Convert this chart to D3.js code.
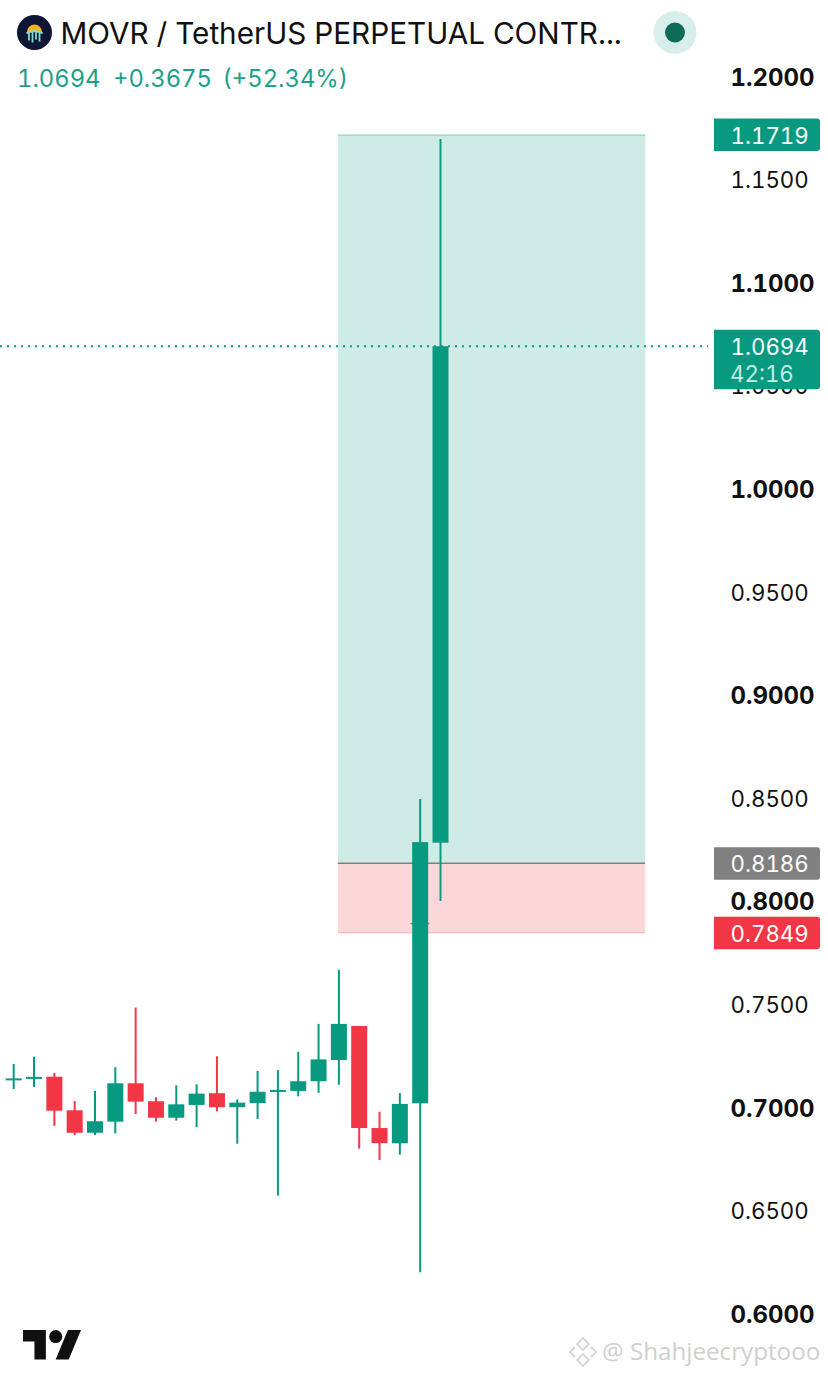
<!DOCTYPE html>
<html>
<head>
<meta charset="utf-8">
<title>MOVR / TetherUS</title>
<script src="https://cdn.jsdelivr.net/npm/d3@7"></script>
<style>
	html, body { margin: 0; padding: 0; background: #fff; }
	svg { display: block; }
	text { font-family: Inter, "Noto Sans", sans-serif; font-variant-numeric: tabular-nums; font-feature-settings: "tnum"; }
</style>
</head>
<body>
<div id="chart"></div>
<script>
// candles
var opens  = [0.7138, 0.7146, 0.7151, 0.6988, 0.6879, 0.6933, 0.7119, 0.7032, 0.6952, 0.7014, 0.7071, 0.7003, 0.7023, 0.7082, 0.7082, 0.7129, 0.7232, 0.7397, 0.6902, 0.6828, 0.7022, 0.8286];
var highs  = [0.7213, 0.7248, 0.7169, 0.7033, 0.7082, 0.7197, 0.7486, 0.7051, 0.7109, 0.7114, 0.7250, 0.7041, 0.7179, 0.7183, 0.7272, 0.7407, 0.7670, 0.7397, 0.6981, 0.7072, 0.8498, 1.1699];
var lows   = [0.7091, 0.7101, 0.6913, 0.6868, 0.6868, 0.6876, 0.6970, 0.6933, 0.6938, 0.6906, 0.6983, 0.6826, 0.6946, 0.6574, 0.7056, 0.7073, 0.7112, 0.6802, 0.6747, 0.6773, 0.6202, 0.8003];
var closes = [0.7138, 0.7150, 0.6986, 0.6879, 0.6935, 0.7119, 0.7030, 0.6952, 0.7017, 0.7069, 0.7003, 0.7025, 0.7078, 0.7082, 0.7129, 0.7235, 0.7407, 0.6902, 0.6829, 0.7019, 0.8289, 1.0694];

var priceTicks = [1.2, 1.15, 1.1, 1.05, 1.0, 0.95, 0.9, 0.85, 0.8, 0.75, 0.7, 0.65, 0.6];
var boldTicks = [1.2, 1.1, 1.0, 0.9, 0.8, 0.7, 0.6];

var targetPrice = 1.1719;
var entryPrice = 0.8186;
var stopPrice = 0.7849;
var lastPrice = 1.0694;
var countdown = '42:16';

var GREEN = '#089981';
var RED = '#F23645';
var GRAY = '#808080';

var width = 828;
var height = 1376;

var svg = d3.select('#chart').append('svg')
	.attr('width', width)
	.attr('height', height);

var x = d3.scaleLinear().domain([0, 21]).range([13.7, 440.5]);
var y = d3.scaleLinear().domain([0.6, 1.2]).range([1314, 77]);
var bodyWidth = 16;

var candles = opens.map(function(o, i) {
	return { i: i, o: o, h: highs[i], l: lows[i], c: closes[i] };
});
function candleColor(d) {
	return d.c >= d.o ? GREEN : RED;
}

// price axis goes first, the tags sit on top of it
var axis = svg.append('g')
	.attr('class', 'axis')
	.attr('transform', 'translate(730.5,0.5)')
	.call(d3.axisRight(y)
		.tickValues(priceTicks)
		.tickFormat(d3.format('.4f'))
		.tickSize(0)
		.tickPadding(0));
axis.select('.domain').remove();
axis.selectAll('text')
	.style('font-family', 'Inter, sans-serif')
	.attr('fill', '#101010')
	.attr('font-size', function(d) {
		return boldTicks.indexOf(d) >= 0 ? 24 : 22.3;
	})
	.attr('font-weight', function(d) {
		return boldTicks.indexOf(d) >= 0 ? 700 : 400;
	});

// long position zones
var zoneLeft = x(15.95);
var zoneRight = x(31.07);

svg.append('rect')
	.attr('x', zoneLeft).attr('width', zoneRight - zoneLeft)
	.attr('y', y(targetPrice)).attr('height', y(entryPrice) - y(targetPrice))
	.attr('fill', GREEN).attr('fill-opacity', 0.2);
svg.append('rect')
	.attr('x', zoneLeft).attr('width', zoneRight - zoneLeft)
	.attr('y', y(entryPrice)).attr('height', y(stopPrice) - y(entryPrice))
	.attr('fill', RED).attr('fill-opacity', 0.2);

function zoneLine(price, color, opacity) {
	svg.append('line')
		.attr('x1', zoneLeft).attr('x2', zoneRight)
		.attr('y1', y(price)).attr('y2', y(price))
		.attr('stroke', color)
		.attr('stroke-opacity', opacity)
		.attr('stroke-width', 1.5);
}
zoneLine(targetPrice, GREEN, 0.3);
zoneLine(stopPrice, RED, 0.22);
zoneLine(entryPrice, GRAY, 1);

// small arrow head of the position tool, mostly behind the big candle
svg.append('path')
	.attr('d', 'M410 923H430L420 931Z')
	.attr('fill', GRAY);

// candles
var candleG = svg.append('g').attr('class', 'candles');
candleG.selectAll('line')
	.data(candles)
	.enter().append('line')
	.attr('x1', function(d) { return x(d.i); })
	.attr('x2', function(d) { return x(d.i); })
	.attr('y1', function(d) { return y(d.h); })
	.attr('y2', function(d) { return y(d.l); })
	.attr('stroke', candleColor)
	.attr('stroke-width', 2);
candleG.selectAll('rect')
	.data(candles)
	.enter().append('rect')
	.attr('x', function(d) { return x(d.i) - bodyWidth / 2; })
	.attr('width', bodyWidth)
	.attr('y', function(d) { return y(Math.max(d.o, d.c)) - (d.o === d.c ? 1 : 0); })
	.attr('height', function(d) { return Math.max(2, Math.abs(y(d.o) - y(d.c))); })
	.attr('fill', candleColor);

// last price line
svg.append('line')
	.attr('x1', 0).attr('x2', 708)
	.attr('y1', y(lastPrice)).attr('y2', y(lastPrice))
	.attr('stroke', GREEN)
	.attr('stroke-width', 2)
	.attr('stroke-dasharray', '2 5');

// price tags
function priceTag(price, color, topOffset, tagHeight) {
	var top = y(price) - topOffset;
	svg.append('path')
		.attr('d', 'M714 ' + top + 'H817q3 0 3 3V' + (top + tagHeight - 3) + 'q0 3 -3 3H714Z')
		.attr('fill', color);
	svg.append('text')
		.attr('x', 730.5)
		.attr('y', y(price) + 1)
		.attr('dy', '0.36em')
		.attr('font-size', 22.3)
		.attr('fill', '#fff')
		.text(d3.format('.4f')(price));
}
priceTag(targetPrice, GREEN, 16.5, 32.5);
priceTag(lastPrice, GREEN, 16.5, 59.5);
priceTag(entryPrice, GRAY, 16, 32.5);
priceTag(stopPrice, RED, 16, 32.5);

svg.append('text')
	.attr('x', 730)
	.attr('y', y(lastPrice) + 28)
	.attr('dy', '0.36em')
	.attr('font-size', 22.3)
	.attr('fill', '#c4ece5')
	.text(countdown);

// header
var icon = svg.append('g').attr('transform', 'translate(34.5,32.5)');
icon.append('circle').attr('r', 17.5).attr('fill', '#0e1535');
icon.append('path').attr('d', 'M-7.5 -0.5A7.5 7.5 0 0 1 7.5 -0.5Z').attr('fill', '#f5b521');
icon.append('path')
	.attr('d', 'M-8 1C-5 -2 5 -2 8 1M-5.5 0V8M-2 -1V10M1.5 -1V7M5 0V9')
	.attr('fill', 'none')
	.attr('stroke', '#7fe0d2')
	.attr('stroke-width', 1.8);

svg.append('text')
	.attr('x', 60.5).attr('y', 44)
	.attr('font-size', 29.7)
	.attr('fill', '#101010')
	.text('MOVR / TetherUS PERPETUAL CONTR...');

var legend = svg.append('g').attr('fill', '#1f9f8a').attr('font-size', 23.8);
legend.append('text').attr('x', 17).attr('y', 87).text('1.0694');
legend.append('text').attr('x', 113).attr('y', 87).text('+0.3675');
legend.append('text').attr('x', 222.5).attr('y', 87).text('(+52.34%)');

svg.append('circle').attr('cx', 675).attr('cy', 32.5).attr('r', 21.5).attr('fill', '#d8eeeb');
svg.append('circle').attr('cx', 675).attr('cy', 32.5).attr('r', 10).attr('fill', '#0d6b58');

// tradingview logo
svg.append('g')
	.attr('transform', 'translate(23,1323.5) scale(1.634)')
	.attr('fill', '#101010')
	.call(function(g) {
		g.append('path').attr('d', 'M14 22H7V11H0V4h14v18zM28 22h-8l7.5-18h8L28 22z');
		g.append('circle').attr('cx', 20).attr('cy', 8).attr('r', 4);
	});

// watermark
var mark = svg.append('g').attr('transform', 'translate(583,1352)')
	.attr('fill', 'none').attr('stroke', '#d4d4d4').attr('stroke-width', 1.8);
mark.append('path').attr('d', 'M0 -14L6 -8L0 -2L-6 -8Z');
mark.append('path').attr('d', 'M0 14L6 8L0 2L-6 8Z');
mark.append('path').attr('d', 'M-8 -5L-13 0L-8 5M8 -5L13 0L8 5');

svg.append('text')
	.attr('x', 602).attr('y', 1360)
	.attr('font-size', 24.2)
	.attr('fill', '#cfcfcf')
	.style('font-family', '"Open Sans", sans-serif')
	.text('@ Shahjeecryptooo');
</script>
</body>
</html>
